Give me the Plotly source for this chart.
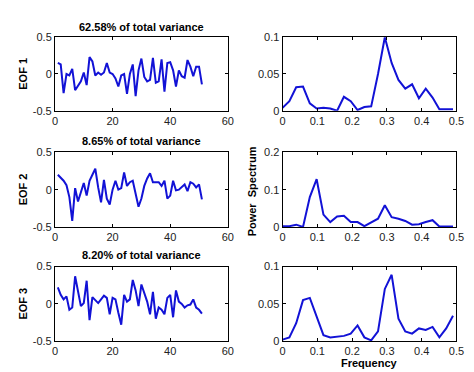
import plotly.graph_objects as go

W, H = 474, 372

time_idx = list(range(1, 52))
eof1 = [0.15, 0.13, -0.26, 0.0, -0.02, 0.07, -0.22, -0.15, -0.1, 0.02,
        -0.15, 0.23, 0.17, -0.02, 0.02, -0.01, 0.02, 0.15, 0.02, 0.0,
        -0.06, -0.17, -0.02, 0.0, -0.27, 0.0, 0.13, -0.3, 0.05, 0.21,
        -0.04, -0.1, -0.08, 0.22, -0.12, -0.1, 0.2, -0.24, 0.15, 0.16,
        0.05, -0.17, 0.05, -0.03, -0.05, 0.19, 0.1, -0.03, 0.1, 0.1, -0.14]
eof2 = [0.2, 0.16, 0.12, 0.06, -0.1, -0.42, 0.02, -0.16, -0.02, 0.09,
        -0.08, 0.12, 0.2, 0.28, 0.03, -0.17, 0.13, -0.12, -0.2, 0.0,
        0.12, 0.0, 0.02, 0.23, 0.05, 0.1, 0.12, -0.05, -0.23, -0.12,
        0.05, 0.15, 0.22, 0.1, 0.1, 0.1, 0.05, 0.12, -0.12, -0.08,
        0.12, -0.01, 0.0, 0.03, 0.07, -0.02, 0.1, 0.08, 0.03, 0.07, -0.13]
eof3 = [0.22, 0.12, 0.06, 0.1, -0.08, -0.05, 0.37, 0.18, -0.03, 0.01,
        0.31, -0.22, 0.09, 0.05, 0.01, 0.06, 0.11, 0.08, -0.14, 0.08,
        0.06, -0.12, -0.28, 0.12, 0.03, 0.06, 0.32, 0.18, -0.03, 0.26,
        0.14, 0.03, -0.14, 0.16, -0.2, -0.05, -0.08, -0.14, 0.08, 0.12,
        -0.18, 0.18, 0.03, 0.0, -0.05, -0.02, -0.01, 0.06, -0.05, -0.08, -0.13]

freq = [k / 51 for k in range(26)]
spec1 = [0.004, 0.013, 0.032, 0.033, 0.01, 0.003, 0.004, 0.003, 0.0, 0.019,
         0.013, 0.001, 0.005, 0.006, 0.05, 0.1, 0.065, 0.042, 0.03, 0.036,
         0.017, 0.03, 0.018, 0.002, 0.002, 0.002]
spec2 = [0.002, 0.002, 0.006, 0.0, 0.08, 0.128, 0.033, 0.013, 0.028, 0.03,
         0.013, 0.013, 0.002, 0.011, 0.022, 0.058, 0.026, 0.022, 0.016, 0.006,
         0.007, 0.013, 0.018, 0.001, 0.001, 0.001]
spec3 = [0.002, 0.005, 0.024, 0.055, 0.058, 0.034, 0.008, 0.005, 0.006, 0.007,
         0.01, 0.021, 0.005, 0.001, 0.013, 0.07, 0.089, 0.03, 0.013, 0.01,
         0.017, 0.015, 0.019, 0.005, 0.017, 0.034]

titles = ["62.58% of total variance", "8.65% of total variance", "8.20% of total variance"]
eof_labels = ["EOF 1", "EOF 2", "EOF 3"]

left_xticks = [0, 20, 40, 60]
left_yticks = [-0.5, 0, 0.5]
left_yticktext = ["-0.5", "0", "0.5"]
right_xticks = [0, 0.1, 0.2, 0.3, 0.4, 0.5]
right_xticktext = ["0", "0.1", "0.2", "0.3", "0.4", "0.5"]
spec_yticks = [[0, 0.05, 0.1], [0, 0.1, 0.2], [0, 0.05, 0.1]]
spec_yticktext = [["0", "0.05", "0.1"], ["0", "0.1", "0.2"], ["0", "0.05", "0.1"]]

LINE = "#1212d6"
FONT = "Liberation Sans, Arial, sans-serif"

# pixel layout
lx0, lx1 = 45, 222
rx0, rx1 = 278, 456
rows = [(24, 100), (143, 220), (261, 338)]

def px_x(p):
    return p / W

def px_y(p):
    return 1 - p / H

fig = go.Figure()
eofs = [eof1, eof2, eof3]
specs = [spec1, spec2, spec3]

axis_common = dict(showline=True, linecolor="black", linewidth=1, mirror="ticks",
                   ticks="inside", ticklen=3, tickcolor="black", showgrid=False,
                   zeroline=False, tickfont=dict(family=FONT, size=11, color="#222"),
                   fixedrange=True)

layout_axes = {}
for i in range(3):
    top, bot = rows[i]
    ydom = [px_y(bot), px_y(top)]
    li = 2 * i + 1
    ri = 2 * i + 2
    fig.add_trace(go.Scatter(x=time_idx, y=eofs[i], mode="lines",
                             line=dict(color=LINE, width=2),
                             xaxis=f"x{li}", yaxis=f"y{li}", showlegend=False))
    fig.add_trace(go.Scatter(x=freq, y=specs[i], mode="lines",
                             line=dict(color=LINE, width=2),
                             xaxis=f"x{ri}", yaxis=f"y{ri}", showlegend=False))
    sfx_l = "" if li == 1 else str(li)
    sfx_r = str(ri)
    layout_axes[f"xaxis{sfx_l}"] = dict(axis_common, domain=[px_x(lx0), px_x(lx1)],
                                        range=[0, 60], tickvals=left_xticks,
                                        anchor=f"y{li}")
    layout_axes[f"yaxis{sfx_l}"] = dict(axis_common, domain=ydom, range=[-0.5, 0.5],
                                        tickvals=left_yticks, ticktext=left_yticktext,
                                        anchor=f"x{li}")
    layout_axes[f"xaxis{sfx_r}"] = dict(axis_common, domain=[px_x(rx0), px_x(rx1)],
                                        range=[0, 0.5], tickvals=right_xticks,
                                        ticktext=right_xticktext, anchor=f"y{ri}")
    ymax = spec_yticks[i][-1]
    layout_axes[f"yaxis{sfx_r}"] = dict(axis_common, domain=ydom, range=[0, ymax],
                                        tickvals=spec_yticks[i], ticktext=spec_yticktext[i],
                                        anchor=f"x{ri}")

annotations = []
title_y = [13, 131, 249]
for i in range(3):
    annotations.append(dict(text=f"<b>{titles[i]}</b>", x=px_x((lx0 + lx1) / 2),
                            y=px_y(title_y[i]), xref="paper", yref="paper",
                            xanchor="center", yanchor="middle", showarrow=False,
                            font=dict(family=FONT, size=11, color="black")))
    top, bot = rows[i]
    annotations.append(dict(text=f"<b>{eof_labels[i]}</b>", x=px_x(12),
                            y=px_y((top + bot) / 2), xref="paper", yref="paper",
                            xanchor="center", yanchor="middle", showarrow=False,
                            textangle=-90,
                            font=dict(family=FONT, size=11, color="black")))
annotations.append(dict(text="<b>Power\u00a0\u00a0Spectrum</b>", x=px_x(247),
                        y=px_y(183), xref="paper", yref="paper",
                        xanchor="center", yanchor="middle", showarrow=False,
                        textangle=-90, font=dict(family=FONT, size=11, color="black")))
annotations.append(dict(text="<b>Frequency</b>", x=px_x(367),
                        y=px_y(361), xref="paper", yref="paper",
                        xanchor="center", yanchor="middle", showarrow=False,
                        font=dict(family=FONT, size=11, color="black")))

fig.update_layout(width=W, height=H, margin=dict(l=0, r=0, t=0, b=0),
                  paper_bgcolor="white", plot_bgcolor="white",
                  annotations=annotations, **layout_axes)

fig.write_html("out.html", config={"displayModeBar": False})
